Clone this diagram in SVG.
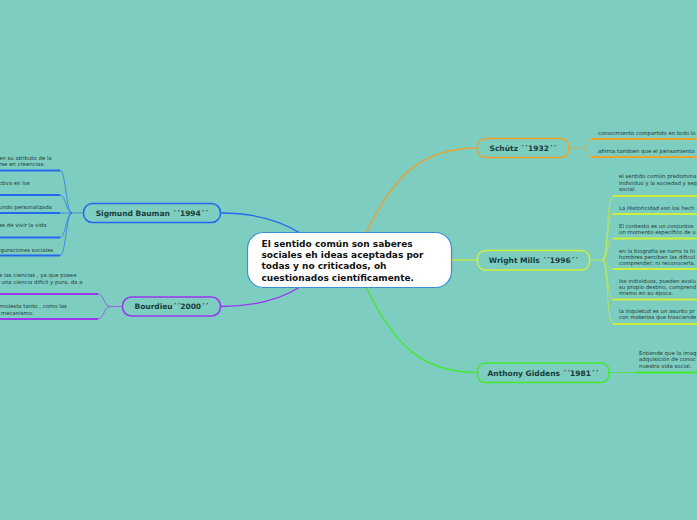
<svg xmlns="http://www.w3.org/2000/svg" width="697" height="520" viewBox="0 0 697 520">
<style>
.lbl{font-family:"DejaVu Sans",Verdana,sans-serif;font-weight:bold;font-size:7.5px;fill:#173d3a;text-anchor:middle}
.sm{font-family:"DejaVu Sans",Verdana,sans-serif;font-size:5.4px;fill:#1f3a3a}
.ctr{font-family:"DejaVu Sans",Verdana,sans-serif;font-weight:bold;font-size:9px;fill:#111}
.box{fill:none;stroke-width:1.5}
.br{fill:none;stroke-width:1.3}
.tw{fill:none;stroke-width:0.9;stroke-opacity:0.75}
.ul{fill:none;stroke-width:2}
.or{stroke:#eca22e}.yg{stroke:#cdee3a}.gr{stroke:#44e82c}.bl{stroke:#2468ee}.pu{stroke:#9a35ee}
</style>
<rect width="697" height="520" fill="#7ecdc1"/>
<g id="connectors">
<path class="br or" d="M366 233 C395 172 425 148 477.5 148"/>
<path class="br yg" d="M451 260 L477 260"/>
<path class="br gr" d="M366 287 C395 348 425 372.5 477 372.5"/>
<path class="br bl" d="M300 233 C276 218 250 213 220.5 213"/>
<path class="br pu" d="M300 287 C276 302 250 306.5 220.5 306.5"/>
<!-- Schutz children -->
<path class="tw or" d="M569 148 L583 148"/>
<path class="tw or" d="M583 148 C588 148 586 139 591 139"/>
<path class="tw or" d="M583 148 C588 148 586 157 591 157"/>
<path class="ul or" d="M591 139 L697 139"/>
<path class="ul or" d="M591 157 L697 157"/>
<!-- Wright Mills children -->
<path class="tw yg" d="M589.5 260 L602 260"/>
<path class="tw yg" d="M602 260 C609 260 606 196 613 196"/>
<path class="tw yg" d="M602 260 C609 260 606 214 613 214"/>
<path class="tw yg" d="M602 260 C609 260 606 238.5 613 238.5"/>
<path class="tw yg" d="M602 260 C609 260 606 269 613 269"/>
<path class="tw yg" d="M602 260 C609 260 606 299.5 613 299.5"/>
<path class="tw yg" d="M602 260 C609 260 606 324 613 324"/>
<path class="ul yg" d="M613 196 L697 196 M613 214 L697 214 M613 238.5 L697 238.5 M613 269 L697 269 M613 299.5 L697 299.5 M613 324 L697 324"/>
<!-- Giddens child -->
<path class="tw gr" d="M609 372.5 L635 372.5"/>
<path class="ul gr" d="M635 372.5 L697 372.5"/>
<!-- Bauman children -->
<path class="tw bl" d="M83 213 L72 213"/>
<path class="tw bl" d="M72 213 C66 213 66 170.5 60 170.5"/>
<path class="tw bl" d="M72 213 C66 213 66 195 60 195"/>
<path class="tw bl" d="M72 213 L60 213"/>
<path class="tw bl" d="M72 213 C66 213 66 237.5 60 237.5"/>
<path class="tw bl" d="M72 213 C66 213 66 255.5 60 255.5"/>
<path class="ul bl" d="M0 170.5 L60 170.5 M0 195 L60 195 M0 213 L60 213 M0 237.5 L60 237.5 M0 255.5 L60 255.5"/>
<!-- Bourdieu children -->
<path class="tw pu" d="M122.5 306.5 L110 306.5"/>
<path class="tw pu" d="M110 306.5 C104 306.5 104 294 98 294"/>
<path class="tw pu" d="M110 306.5 C104 306.5 104 319 98 319"/>
<path class="ul pu" d="M0 294 L98 294 M0 319 L98 319"/>
</g>
<g id="center">
<rect x="247.5" y="232.5" width="204" height="55" rx="16" fill="#fff" stroke="#3a8fd2" stroke-width="1.2"/>
<text class="ctr" x="261.5"><tspan x="261.5" y="246.6">El sentido común son saberes</tspan><tspan x="261.5" y="257.9">sociales eh ideas aceptadas por</tspan><tspan x="261.5" y="269.2">todas y no criticados, oh</tspan><tspan x="261.5" y="280.5">cuestionados científicamente.</tspan></text>
</g>
<g id="schutz">
<rect class="box or" x="477.5" y="138.5" width="91.5" height="19" rx="8"/>
<text class="lbl" x="523" y="150.8">Schütz ´´1932´´</text>
<text class="sm" x="598" y="134.8">conocimiento compartido en todo lo</text>
<text class="sm" x="598" y="153">afirma tambien que el pensamiento</text>
</g>
<g id="wright-mills">
<rect class="box yg" x="477.5" y="250.5" width="112" height="19.5" rx="8"/>
<text class="lbl" x="533.5" y="263">Wright Mills ´´1996´´</text>
<text class="sm" x="619" y="178.4">el sentido común predomina</text>
<text class="sm" x="619" y="184.8">individuo y la sociedad y sep</text>
<text class="sm" x="619" y="191.3">social.</text>
<text class="sm" x="619" y="209.9">La Historicidad son los hech</text>
<text class="sm" x="619" y="228">El contexto es un conjuntos</text>
<text class="sm" x="619" y="234.2">un momento específico de u</text>
<text class="sm" x="619" y="252.5">en la biografía se narra la hi</text>
<text class="sm" x="619" y="258.8">hombres perciben las dificul</text>
<text class="sm" x="619" y="265">comprender; ni reconocerla.</text>
<text class="sm" x="619" y="283">los individuos, pueden evalu</text>
<text class="sm" x="619" y="289.2">su propio destino, comprend</text>
<text class="sm" x="619" y="295.4">mismo en su época.</text>
<text class="sm" x="619" y="313">la inquietud es un asunto pr</text>
<text class="sm" x="619" y="319.3">con materias que trasciende</text>
</g>
<g id="giddens">
<rect class="box gr" x="477.5" y="363" width="131.5" height="19.5" rx="8"/>
<text class="lbl" x="543" y="375.5">Anthony Giddens ´´1981´´</text>
<text class="sm" x="639" y="355">Entiende que la imag</text>
<text class="sm" x="639" y="361.2">adquisición  de conoc</text>
<text class="sm" x="639" y="367.5">nuestra vida social.</text>
</g>
<g id="bauman">
<rect class="box bl" x="83.5" y="203.5" width="137" height="19" rx="9"/>
<text class="lbl" x="152" y="215.8">Sigmund Bauman ´´1994´´</text>
<text class="sm" x="-1" y="159.5">en su atributo de la</text>
<text class="sm" x="-1" y="166.3">rse en creencias.</text>
<text class="sm" x="-1" y="185">ctiva en los</text>
<text class="sm" x="-1" y="209">undo personalizada</text>
<text class="sm" x="-1" y="227">es de vivir la vida</text>
<text class="sm" x="-1" y="251.5">iguraciones sociales</text>
</g>
<g id="bourdieu">
<rect class="box pu" x="122.5" y="297" width="98" height="19" rx="9"/>
<text class="lbl" x="171.5" y="309.2">Bourdieu´´2000´´</text>
<text class="sm" x="-1" y="277">e las ciencias , ya que posee</text>
<text class="sm" x="1.5" y="284.3">una ciencia difícil y pura, da a</text>
<text class="sm" x="0" y="308">molesta tanto , como las</text>
<text class="sm" x="1" y="315.3">mecanismo.</text>
</g>
</svg>
